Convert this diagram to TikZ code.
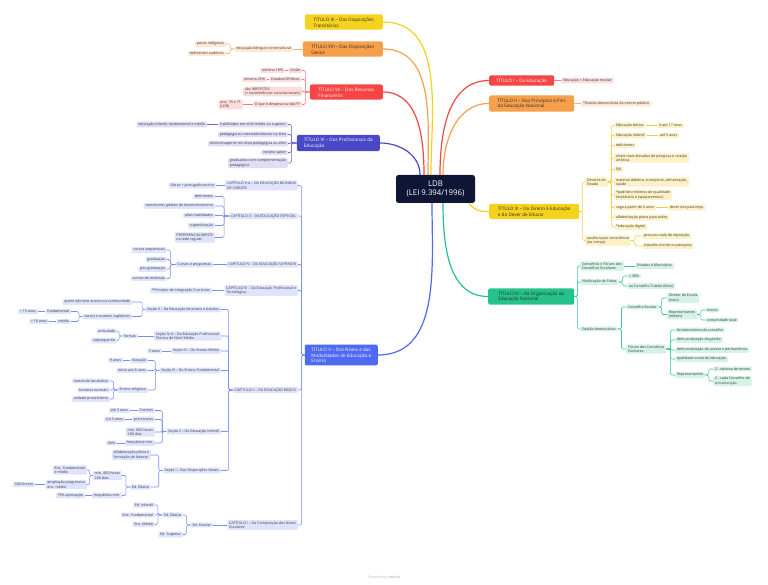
\documentclass[tikz,border=0pt]{standalone}
\usepackage{fontspec}
\setmainfont{Open Sans}
\definecolor{ylw}{HTML}{F5D31C}
\definecolor{org}{HTML}{F7A04C}
\definecolor{redA}{HTML}{F54545}
\definecolor{ind}{HTML}{4B48C8}
\definecolor{blu}{HTML}{4E6AF2}
\definecolor{grn}{HTML}{26C28C}
\definecolor{navy}{HTML}{0F1535}
\definecolor{ylwL}{HTML}{FCF1C6}
\definecolor{orgL}{HTML}{FDE8D6}
\definecolor{redL}{HTML}{FDDCDC}
\definecolor{indL}{HTML}{DFDEF6}
\definecolor{bluL}{HTML}{DEE4FD}
\definecolor{grnL}{HTML}{D4F3E6}
\definecolor{ylwC}{HTML}{F2CF3A}
\definecolor{orgC}{HTML}{F5B27A}
\definecolor{redC}{HTML}{F27C7C}
\definecolor{indC}{HTML}{6966D8}
\definecolor{bluC}{HTML}{7A8EF4}
\definecolor{grnC}{HTML}{3CCB98}
\definecolor{dk}{HTML}{2A2A2A}
\definecolor{txt}{HTML}{3A3A3A}
\newcommand\smallf{\fontsize{3.6}{4.4}\selectfont}
\newcommand\ttlf{\fontsize{4.6}{5.8}\selectfont}
\newcommand\ctrf{\fontsize{7.8}{9.4}\selectfont}
\newcommand\linkL[4]{\draw[#1] (#2.west) -- ++(-#4,0) |- (#3.east);}
\newcommand\linkR[4]{\draw[#1] (#2.east) -- ++(#4,0) |- (#3.west);}
\tikzset{
  sub/.style={rounded corners=1.2pt, align=left, inner xsep=1.8pt, inner ysep=1.1pt, font=\smallf, text=txt},
  sY/.style={sub, fill=ylwL}, sO/.style={sub, fill=orgL}, sR/.style={sub, fill=redL},
  sI/.style={sub, fill=indL}, sB/.style={sub, fill=bluL}, sG/.style={sub, fill=grnL},
  ln/.style={line width=0.55pt, rounded corners=1.5pt},
  lY/.style={ln, draw=ylwC}, lO/.style={ln, draw=orgC}, lR/.style={ln, draw=redC},
  lI/.style={ln, draw=indC}, lB/.style={ln, draw=bluC}, lG/.style={ln, draw=grnC},
  ttl/.style={rounded corners=2pt, align=left, inner xsep=4pt, inner ysep=2.5pt, font=\ttlf},
  mainln/.style={line width=1.2pt},
  ctr/.style={fill=navy, text=white, rounded corners=2.5pt, minimum width=79pt, minimum height=28pt, align=center, font=\ctrf}
}
\begin{document}
\begin{tikzpicture}[x=1pt,y=-1pt]
\path[use as bounding box, fill=white] (0,0) rectangle (768,585);

% center
\node[ctr] (c) at (435.5,189) {LDB\\(LEI 9.394/1996)};

% titles
\node[ttl, fill=ylw, text=dk, anchor=east, minimum width=78pt] (t9) at (383,22) {TÍTULO IX – Das Disposições\\Transitórias};
\node[ttl, fill=org, text=dk, anchor=east, minimum width=80pt] (t8) at (383,49) {TÍTULO VIII – Das Disposições\\Gerais};
\node[ttl, fill=redA, text=white, anchor=east, minimum width=73pt] (t7) at (383,92) {TÍTULO VII – Dos Recursos\\Financeiros};
\node[ttl, fill=ind, text=white, anchor=east, minimum width=83pt] (t6) at (380,143) {TÍTULO VI – Dos Profissionais da\\Educação};
\node[ttl, fill=blu, text=white, anchor=east, minimum width=73pt] (t5) at (378,355) {TÍTULO V – Dos Níveis e das\\Modalidades de Educação e\\Ensino};
\node[ttl, fill=redA, text=white, anchor=west, minimum width=65pt] (t1) at (489,80.5) {TÍTULO I – Da Educação};
\node[ttl, fill=org, text=dk, anchor=west, minimum width=85pt] (t2) at (489,103.5) {TÍTULO II – Dos Princípios e Fins\\da Educação Nacional};
\node[ttl, fill=ylw, text=dk, anchor=west, minimum width=90pt] (t3) at (489,211.5) {TÍTULO III – Do Direito à Educação\\e do Dever de Educar};
\node[ttl, fill=grn, text=dk, anchor=west, minimum width=86pt] (t4) at (488,296.5) {TÍTULO IV – Da Organização da\\Educação Nacional};

% main connectors
\draw[mainln, ylw] ([xshift=-4.5pt]c.north) to[out=90,in=0] (t9.east);
\draw[mainln, org] ([xshift=-7.5pt]c.north) to[out=90,in=0] (t8.east);
\draw[mainln, redA] ([xshift=-11.5pt]c.north) to[out=90,in=0] (t7.east);
\draw[mainln, ind] ([xshift=-15.5pt]c.north) to[out=90,in=0] (t6.east);
\draw[mainln, redA] ([xshift=4.5pt]c.north) to[out=90,in=180] (t1.west);
\draw[mainln, org] ([xshift=7.5pt]c.north) to[out=90,in=180] (t2.west);
\draw[mainln, blu] ([xshift=-3.5pt]c.south) to[out=-90,in=0] (t5.east);
\draw[mainln, grn] ([xshift=7.5pt]c.south) to[out=-90,in=180] (t4.west);
\draw[mainln, ylw] ([xshift=-6pt]c.south east) to[out=-60,in=180] (t3.west);

% ---- VIII
\node[sO, anchor=east] (a1) at (293,49) {educação bilíngue e intercultural};
\node[sO, anchor=east] (a11) at (226,44) {povos indígenas};
\node[sO, anchor=east] (a12) at (226,53.5) {deficientes auditivos};
\draw[lO] (t8.west) -- (a1.east);
\linkL{lO}{a1}{a11}{4}
\linkL{lO}{a1}{a12}{4}

% ---- VII
\node[sR, anchor=east] (b1) at (302,70.5) {União};
\node[sR, anchor=east] (b11) at (285,70.5) {mínimo 18\%};
\node[sR, anchor=east] (b2) at (302,79.5) {Estados/DF/Mun.};
\node[sR, anchor=east] (b21) at (267,79.5) {mínimo 25\%};
\node[sR, anchor=east] (b3) at (302,91.5) {são IMPOSTOS\\(+ transferências constitucionais)};
\node[sR, anchor=east] (b4) at (302,104.5) {O que é despesa ou não???};
\node[sR, anchor=east] (b41) at (243,104.5) {arts. 70 e 71\\(LDB)};
\linkL{lR}{t7}{b1}{4}
\linkL{lR}{t7}{b2}{4}
\linkL{lR}{t7}{b3}{4}
\linkL{lR}{t7}{b4}{4}
\draw[lR] (b1.west) -- (b11.east);
\draw[lR] (b2.west) -- (b21.east);
\draw[lR] (b4.west) -- (b41.east);

% ---- VI
\node[sI, anchor=east] (v1) at (288,124.5) {habilitados em nível médio ou superior};
\node[sI, anchor=east] (v11) at (207,124.5) {educação infantil, fundamental e médio};
\node[sI, anchor=east] (v2) at (288,134.5) {pedagogia ou mestrado/doutor na área};
\node[sI, anchor=east] (v3) at (288,143.5) {técnico/superior em área pedagógica ou afim};
\node[sI, anchor=east] (v4) at (288,152.5) {notório saber};
\node[sI, anchor=east] (v5) at (288,163) {graduados com complementação\\pedagógica};
\linkL{lI}{t6}{v1}{5}
\linkL{lI}{t6}{v2}{5}
\linkL{lI}{t6}{v3}{5}
\linkL{lI}{t6}{v4}{5}
\linkL{lI}{t6}{v5}{5}
\draw[lI] (v1.west) -- (v11.east);

% ---- V
\node[sB, anchor=east] (k5a) at (298,185.5) {CAPÍTULO V-A – DA EDUCAÇÃO BILÍNGUE\\DE SURDOS};
\node[sB, anchor=east] (k5a1) at (216,185.5) {Libras + português escrito};
\node[sB, anchor=east] (k5) at (298,216) {CAPÍTULO V – DA EDUCAÇÃO ESPECIAL};
\node[sB, anchor=east] (k51) at (215,196.5) {deficientes};
\node[sB, anchor=east] (k52) at (215,206) {transtornos globais do desenvolvimento};
\node[sB, anchor=east] (k53) at (215,215.5) {altas habilidades};
\node[sB, anchor=east] (k54) at (215,225.5) {superdotação};
\node[sB, anchor=east] (k55) at (215,237.5) {PREFERENCIALMENTE\\na rede regular};
\node[sB, anchor=east] (k4) at (298,264.5) {CAPÍTULO IV – DA EDUCAÇÃO SUPERIOR};
\node[sB, anchor=east] (k41) at (213,264.5) {Cursos e programas};
\node[sB, anchor=east] (k411) at (167,250) {cursos sequenciais};
\node[sB, anchor=east] (k412) at (167,259.5) {graduação};
\node[sB, anchor=east] (k413) at (167,269) {pós-graduação};
\node[sB, anchor=east] (k414) at (167,278.5) {cursos de extensão};
\node[sB, anchor=east] (k3) at (298,290.5) {CAPÍTULO III – Da Educação Profissional e\\Tecnológica};
\node[sB, anchor=east] (k31) at (212,290.5) {*Princípio de Integração Curricular};
\node[sB, anchor=east] (k2) at (298,390) {CAPÍTULO II – DA EDUCAÇÃO BÁSICA};
\node[sB, anchor=east] (s5) at (221,309.5) {Seção V – Da Educação de Jovens e Adultos};
\node[sB, anchor=east] (s51) at (132,302) {quem não teve acesso ou continuidade};
\node[sB, anchor=east] (s52) at (132,316.5) {cursos e exames supletivos};
\node[sB, anchor=east] (s521) at (71,311.5) {fundamental};
\node[sB, anchor=east] (s5211) at (38,311.5) {> 15 anos};
\node[sB, anchor=east] (s522) at (71,321.5) {médio};
\node[sB, anchor=east] (s5221) at (49,321.5) {> 18 anos};
\node[sB, anchor=east] (s4a) at (221,336) {Seção IV-A – Da Educação Profissional\\Técnica de Nível Médio};
\node[sB, anchor=east] (s4a1) at (138,336) {formas};
\node[sB, anchor=east] (s4a11) at (117,331) {articulada};
\node[sB, anchor=east] (s4a12) at (117,340.5) {subsequente};
\node[sB, anchor=east] (s4) at (221,351) {Seção IV – Do Ensino Médio};
\node[sB, anchor=east] (s41) at (162,351) {3 anos};
\node[sB, anchor=east] (s3) at (221,370.5) {Seção III – Do Ensino Fundamental};
\node[sB, anchor=east] (s31) at (148,360.5) {duração};
\node[sB, anchor=east] (s311) at (123,360.5) {9 anos};
\node[sB, anchor=east] (s32) at (148,370.5) {início aos 6 anos};
\node[sB, anchor=east] (s33) at (148,390) {Ensino religioso};
\node[sB, anchor=east] (s331) at (110,381) {matrícula facultativa};
\node[sB, anchor=east] (s332) at (110,390) {horários normais};
\node[sB, anchor=east] (s333) at (110,399) {vedado proselitismo};
\node[sB, anchor=east] (s2) at (221,431.5) {Seção II – Da Educação Infantil};
\node[sB, anchor=east] (s21) at (155,410.5) {Creches};
\node[sB, anchor=east] (s211) at (130,410.5) {até 3 anos};
\node[sB, anchor=east] (s22) at (155,419.5) {pré-escolas};
\node[sB, anchor=east] (s221) at (125,419.5) {4 e 5 anos};
\node[sB, anchor=east] (s23) at (155,432) {mín. 800 horas\\200 dias};
\node[sB, anchor=east] (s24) at (155,443) {frequência mín.};
\node[sB, anchor=east] (s241) at (117,443) {60\%};
\node[sB, anchor=east] (s1) at (221,470.5) {Seção I – Das Disposições Gerais};
\node[sB, anchor=east] (s11) at (151,455) {alfabetização plena e\\formação de leitores};
\node[sB, anchor=east] (s12) at (151,487) {Ed. Básica};
\node[sB, anchor=east] (s121) at (122,475.5) {mín. 800 horas\\200 dias};
\node[sB, anchor=east] (s1211) at (87,470) {Ens. Fundamental\\e médio};
\node[sB, anchor=east] (s1212) at (87,484.5) {ampliação progressiva\\ens. médio};
\node[sB, anchor=east] (s12121) at (35,484.5) {1400 horas};
\node[sB, anchor=east] (s122) at (122,495.5) {frequência mín.};
\node[sB, anchor=east] (s1221) at (85,495.5) {75\% aprovação};
\node[sB, anchor=east] (k1) at (298,525) {CAPÍTULO I – Da Composição dos Níveis\\Escolares};
\node[sB, anchor=east] (k11) at (213,525) {Ed. Escolar};
\node[sB, anchor=east] (k111) at (183,515) {Ed. Básica};
\node[sB, anchor=east] (k1111) at (155,505) {Ed. Infantil};
\node[sB, anchor=east] (k1112) at (155,515) {Ens. Fundamental};
\node[sB, anchor=east] (k1113) at (155,524.5) {Ens. Médio};
\node[sB, anchor=east] (k112) at (183,534.5) {Ed. Superior};

\linkL{lB}{t5}{k5a}{3}
\linkL{lB}{t5}{k5}{3}
\linkL{lB}{t5}{k4}{3}
\linkL{lB}{t5}{k3}{3}
\linkL{lB}{t5}{k2}{3}
\linkL{lB}{t5}{k1}{3}
\draw[lB] (k5a.west) -- (k5a1.east);
\linkL{lB}{k5}{k51}{5}
\linkL{lB}{k5}{k52}{5}
\linkL{lB}{k5}{k53}{5}
\linkL{lB}{k5}{k54}{5}
\linkL{lB}{k5}{k55}{5}
\draw[lB] (k4.west) -- (k41.east);
\linkL{lB}{k41}{k411}{5}
\linkL{lB}{k41}{k412}{5}
\linkL{lB}{k41}{k413}{5}
\linkL{lB}{k41}{k414}{5}
\draw[lB] (k3.west) -- (k31.east);
\linkL{lB}{k2}{s5}{4}
\linkL{lB}{k2}{s4a}{4}
\linkL{lB}{k2}{s4}{4}
\linkL{lB}{k2}{s3}{4}
\linkL{lB}{k2}{s2}{4}
\linkL{lB}{k2}{s1}{4}
\linkL{lB}{s5}{s51}{3}
\linkL{lB}{s5}{s52}{3}
\linkL{lB}{s52}{s521}{3.5}
\linkL{lB}{s52}{s522}{3.5}
\draw[lB] (s521.west) -- (s5211.east);
\draw[lB] (s522.west) -- (s5221.east);
\draw[lB] (s4a.west) -- (s4a1.east);
\linkL{lB}{s4a1}{s4a11}{3}
\linkL{lB}{s4a1}{s4a12}{3}
\draw[lB] (s4.west) -- (s41.east);
\linkL{lB}{s3}{s31}{4}
\linkL{lB}{s3}{s32}{4}
\linkL{lB}{s3}{s33}{4}
\draw[lB] (s31.west) -- (s311.east);
\linkL{lB}{s33}{s331}{4}
\linkL{lB}{s33}{s332}{4}
\linkL{lB}{s33}{s333}{4}
\linkL{lB}{s2}{s21}{4}
\linkL{lB}{s2}{s22}{4}
\linkL{lB}{s2}{s23}{4}
\linkL{lB}{s2}{s24}{4}
\draw[lB] (s21.west) -- (s211.east);
\draw[lB] (s22.west) -- (s221.east);
\draw[lB] (s24.west) -- (s241.east);
\linkL{lB}{s1}{s11}{4}
\linkL{lB}{s1}{s12}{4}
\linkL{lB}{s12}{s121}{4}
\linkL{lB}{s12}{s122}{4}
\linkL{lB}{s121}{s1211}{3}
\linkL{lB}{s121}{s1212}{3}
\draw[lB] (s1212.west) -- (s12121.east);
\draw[lB] (s122.west) -- (s1221.east);
\draw[lB] (k1.west) -- (k11.east);
\linkL{lB}{k11}{k111}{4}
\linkL{lB}{k11}{k112}{4}
\linkL{lB}{k111}{k1111}{4}
\linkL{lB}{k111}{k1112}{4}
\linkL{lB}{k111}{k1113}{4}

% ---- I, II
\node[sR, anchor=west] (i1) at (561,80.5) {Educação = Educação escolar};
\draw[lR] (t1.east) -- (i1.west);
\node[sO, anchor=west] (ii1) at (581,103.5) {*Gestão democrática do ensino público};
\draw[lO] (t2.east) -- (ii1.west);

% ---- III
\node[sY, anchor=west] (d1) at (585,182) {Deveres do\\Estado};
\node[sY, anchor=west] (d11) at (614,125.5) {Educação básica};
\node[sY, anchor=west] (d111) at (657,125.5) {4 aos 17 anos};
\node[sY, anchor=west] (d12) at (614,135.5) {Educação infantil};
\node[sY, anchor=west] (d121) at (658,135.5) {até 5 anos};
\node[sY, anchor=west] (d13) at (614,145.5) {deficientes};
\node[sY, anchor=west] (d14) at (614,158) {níveis mais elevados de pesquisa e criação\\artística};
\node[sY, anchor=west] (d15) at (614,169.5) {EJA};
\node[sY, anchor=west] (d16) at (614,182) {material didático, transporte, alimentação,\\saúde};
\node[sY, anchor=west] (d17) at (614,195) {*padrões mínimos de qualidade\\(mobiliário e equipamentos)};
\node[sY, anchor=west] (d18) at (614,207.5) {vaga a partir de 4 anos};
\node[sY, anchor=west] (d181) at (668,207.5) {dever dos pais/resp.};
\node[sY, anchor=west] (d19) at (614,217.5) {alfabetização plena para todos};
\node[sY, anchor=west] (d1a) at (614,227) {*educação digital};
\node[sY, anchor=west] (d2) at (585,240.5) {ausência por consciência\\(ou crença)};
\node[sY, anchor=west] (d21) at (642,236) {prova ou aula de reposição};
\node[sY, anchor=west] (d22) at (642,246) {trabalho escrito ou pesquisa};
\linkR{lY}{t3}{d1}{3}
\linkR{lY}{t3}{d2}{3}
\linkR{lY}{d1}{d11}{3.5}
\linkR{lY}{d1}{d12}{3.5}
\linkR{lY}{d1}{d13}{3.5}
\linkR{lY}{d1}{d14}{3.5}
\linkR{lY}{d1}{d15}{3.5}
\linkR{lY}{d1}{d16}{3.5}
\linkR{lY}{d1}{d17}{3.5}
\linkR{lY}{d1}{d18}{3.5}
\linkR{lY}{d1}{d19}{3.5}
\linkR{lY}{d1}{d1a}{3.5}
\draw[lY] (d11.east) -- (d111.west);
\draw[lY] (d12.east) -- (d121.west);
\draw[lY] (d18.east) -- (d181.west);
\linkR{lY}{d2}{d21}{4}
\linkR{lY}{d2}{d22}{4}

% ---- IV
\node[sG, anchor=west] (g1) at (580,266) {Conselhos e Fóruns dos\\Conselhos Escolares};
\node[sG, anchor=west] (g11) at (635,266) {Estados e Municípios};
\node[sG, anchor=west] (g2) at (580,282) {Notificação de Faltas};
\node[sG, anchor=west] (g21) at (627,276) {> 30\%};
\node[sG, anchor=west] (g22) at (627,286) {ao Conselho Tutelar (Mun)};
\node[sG, anchor=west] (g3) at (580,329) {Gestão democrática};
\node[sG, anchor=west] (g31) at (626,307) {Conselho Escolar};
\node[sG, anchor=west] (g311) at (667,298) {Diretor da Escola\\(nato)};
\node[sG, anchor=west] (g312) at (667,314.5) {Representantes\\(eleitos)};
\node[sG, anchor=west] (g3121) at (705,310) {escola};
\node[sG, anchor=west] (g3122) at (705,320) {comunidade local};
\node[sG, anchor=west] (g32) at (626,349) {Fórum dos Conselhos\\Escolares};
\node[sG, anchor=west] (g321) at (675,330) {fortalecimento do conselho};
\node[sG, anchor=west] (g322) at (675,340) {democratização da gestão};
\node[sG, anchor=west] (g323) at (675,350) {democratização do acesso e permanência};
\node[sG, anchor=west] (g324) at (675,359) {qualidade social da educação};
\node[sG, anchor=west] (g325) at (675,375) {Representantes};
\node[sG, anchor=west] (g3251) at (713,369) {2 - sistema de ensino};
\node[sG, anchor=west] (g3252) at (713,381) {2 - cada Conselho de\\circunscrição};
\linkR{lG}{t4}{g1}{3}
\linkR{lG}{t4}{g2}{3}
\linkR{lG}{t4}{g3}{3}
\draw[lG] (g1.east) -- (g11.west);
\linkR{lG}{g2}{g21}{4}
\linkR{lG}{g2}{g22}{4}
\linkR{lG}{g3}{g31}{4}
\linkR{lG}{g3}{g32}{4}
\linkR{lG}{g31}{g311}{3}
\linkR{lG}{g31}{g312}{3}
\linkR{lG}{g312}{g3121}{3.5}
\linkR{lG}{g312}{g3122}{3.5}
\linkR{lG}{g32}{g321}{4}
\linkR{lG}{g32}{g322}{4}
\linkR{lG}{g32}{g323}{4}
\linkR{lG}{g32}{g324}{4}
\linkR{lG}{g32}{g325}{4}
\linkR{lG}{g325}{g3251}{3.5}
\linkR{lG}{g325}{g3252}{3.5}

\node[font=\smallf, text=black!25] (pw) at (384,578) {Powered by \textbf{xmind}};
\end{tikzpicture}
\end{document}
